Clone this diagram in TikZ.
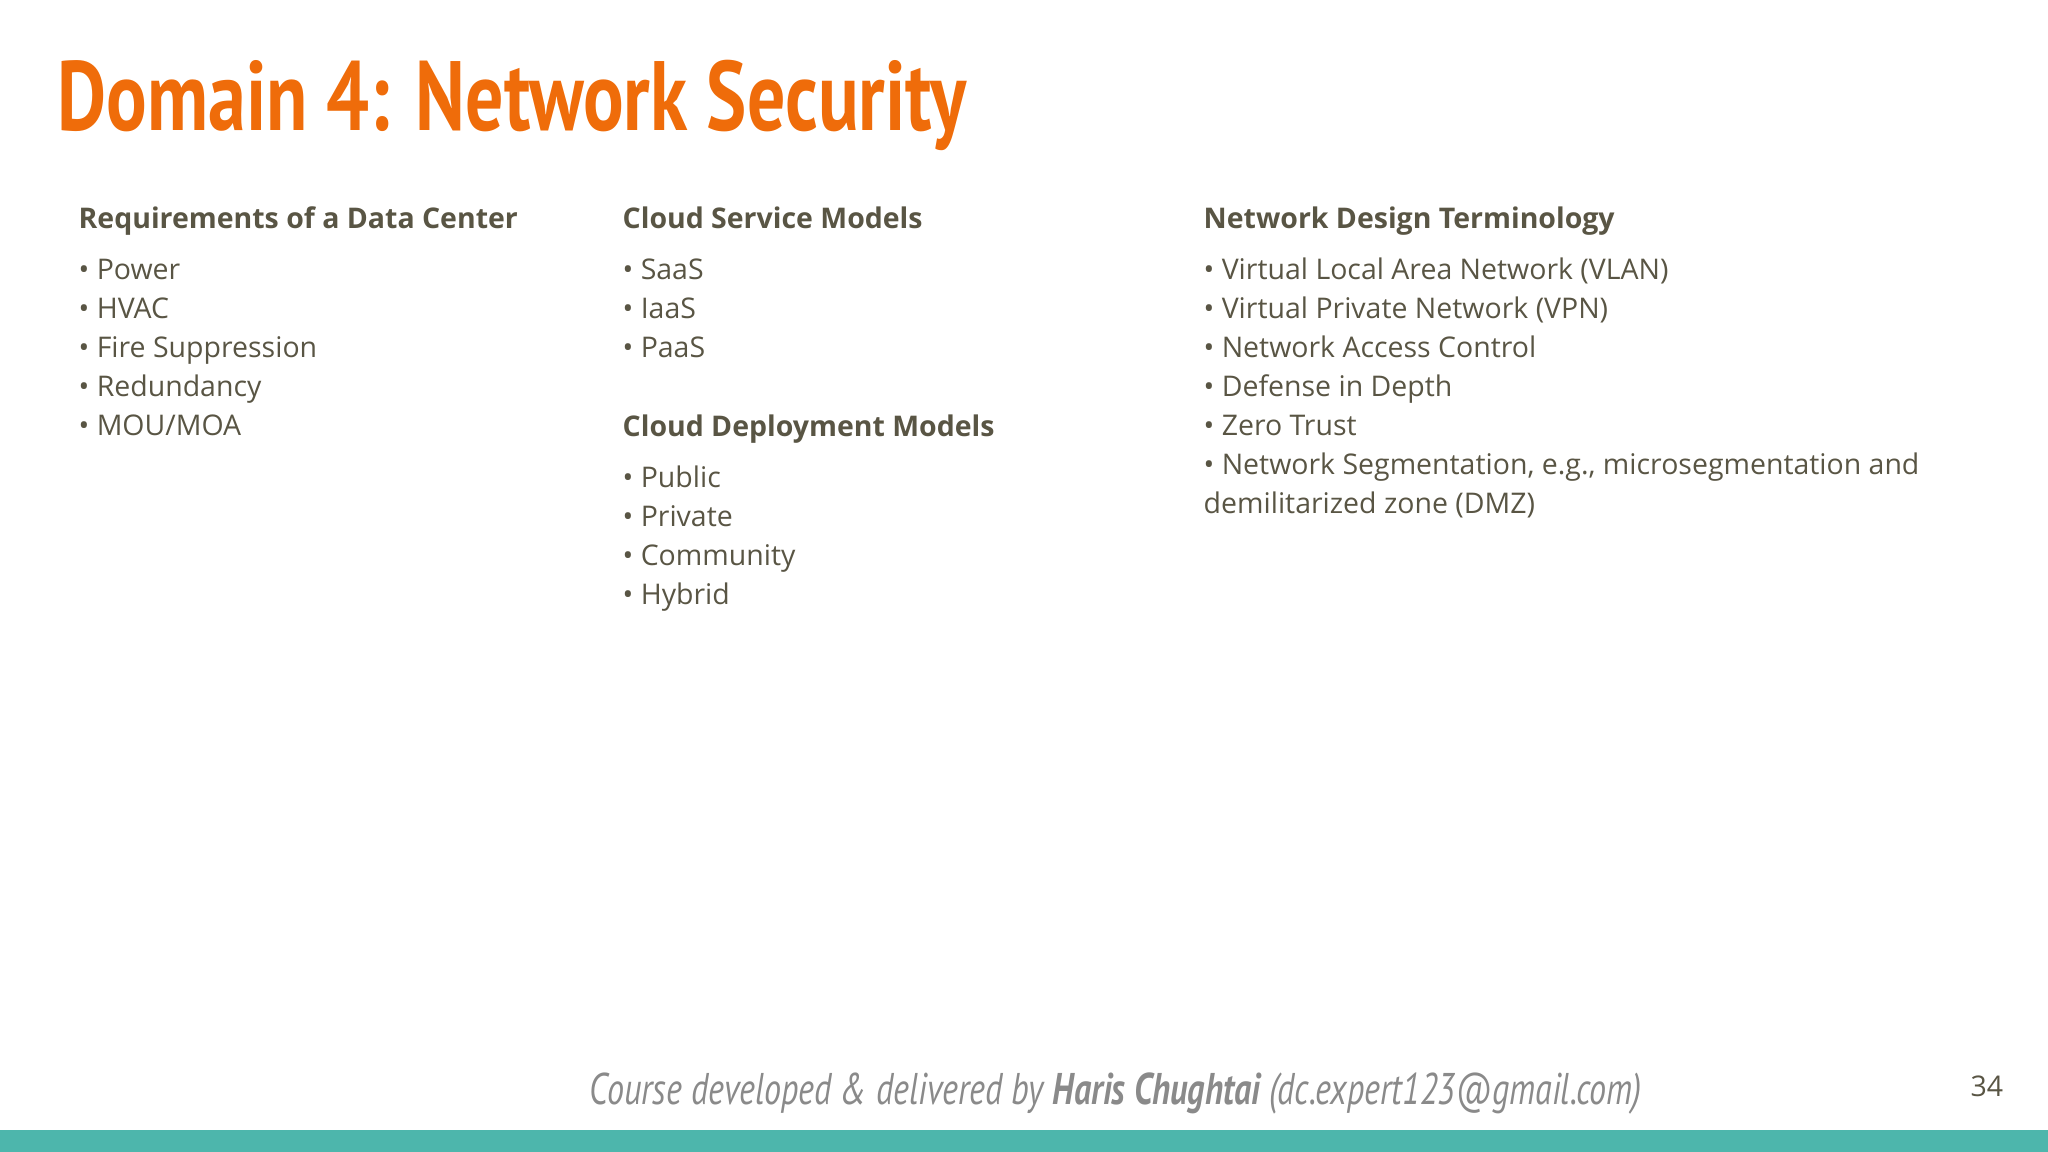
\documentclass[tikz,border=0pt]{standalone}
\usepackage{fontspec}
\setmainfont{Open Sans}
\newfontfamily\ptsans{PT Sans}
\usepackage{xcolor}
\definecolor{titleorange}{HTML}{EF6C0A}
\definecolor{bodytext}{HTML}{595544}
\definecolor{footgray}{HTML}{8A8A8A}
\definecolor{barteal}{HTML}{4DB6AC}
\usetikzlibrary{positioning}

\tikzset{
  head/.style={anchor=base west,inner sep=0pt,font=\fontsize{8.1}{10}\selectfont\bfseries,text=bodytext},
  item/.style={anchor=base west,inner sep=0pt,font=\fontsize{8.1}{10}\selectfont,text=bodytext}
}

\begin{document}
\begin{tikzpicture}
  \useasboundingbox (0,0) rectangle (20.48,11.52);
  % Bottom bar
  \fill[barteal] (0,0) rectangle (20.48,0.22);

  % Title
  \node[anchor=base west,inner sep=0pt,text=titleorange] (title) at (0.57,10.21)
    {\resizebox{9.09cm}{!}{\scalebox{1}[1.3]{\ptsans\bfseries Domain 4: Network Security}}};

  % Column 1
  \node[head] (dchead) at (0.78,9.23) {Requirements of a Data Center};
  \foreach \t [count=\i] in {Power,HVAC,Fire Suppression,Redundancy,MOU/MOA}
    \node[item] (dc\i) at (0.78,{8.72-0.39*(\i-1)}) {• \t};

  % Column 2
  \node[head] (svchead) at (6.22,9.23) {Cloud Service Models};
  \foreach \t [count=\i] in {SaaS,IaaS,PaaS}
    \node[item] (svc\i) at (6.22,{8.72-0.39*(\i-1)}) {• \t};
  \node[head] (dephead) at (6.22,7.15) {Cloud Deployment Models};
  \foreach \t [count=\i] in {Public,Private,Community,Hybrid}
    \node[item] (dep\i) at (6.22,{6.64-0.39*(\i-1)}) {• \t};

  % Column 3
  \node[head] (nethead) at (12.03,9.23) {Network Design Terminology};
  \foreach \t [count=\i] in {Virtual Local Area Network (VLAN),Virtual Private Network (VPN),Network Access Control,Defense in Depth,Zero Trust}
    \node[item] (net\i) at (12.03,{8.72-0.39*(\i-1)}) {• \t};
  \node[item] (net6) at (12.03,6.77) {• Network Segmentation, e.g., microsegmentation and};
  \node[item] (net7) at (12.03,6.38) {demilitarized zone (DMZ)};

  % Footer
  \node[anchor=base,inner sep=0pt,text=footgray] (foot) at (11.16,0.47)
    {\resizebox{10.52cm}{!}{\scalebox{1}[1.3]{\ptsans\itshape Course developed \& delivered by \textbf{Haris Chughtai} (dc.expert123@gmail.com)}}};
  \node[anchor=base west,inner sep=0pt,font=\fontsize{8.1}{10}\selectfont,text=bodytext] (page) at (19.70,0.55) {34};
\end{tikzpicture}
\end{document}
